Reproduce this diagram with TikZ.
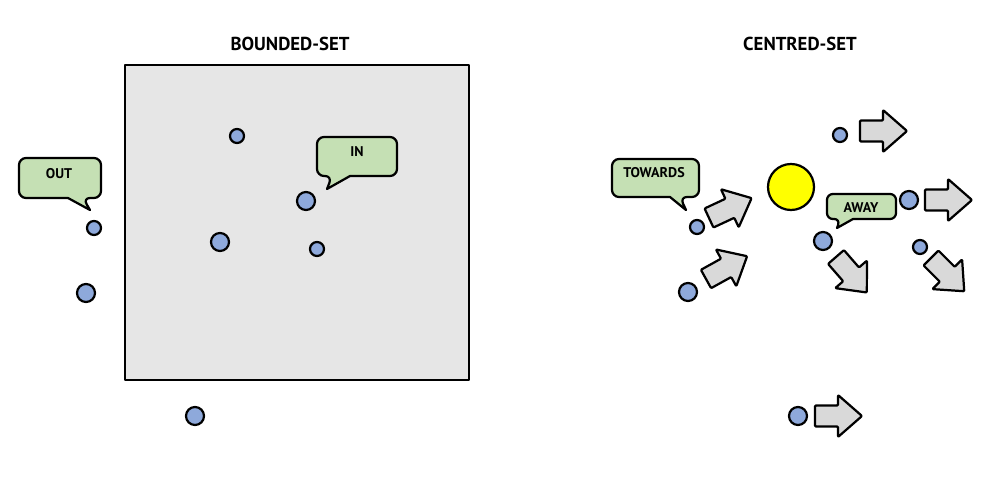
\documentclass[tikz,border=0pt]{standalone}
\usepackage{fontspec}
\setmainfont{PT Sans}
\definecolor{dotblue}{RGB}{142,169,219}
\definecolor{bubgreen}{RGB}{197,224,180}
\definecolor{boxgray}{RGB}{230,230,230}
\definecolor{arrgray}{RGB}{217,217,217}
\definecolor{sunyellow}{RGB}{255,255,0}
\begin{document}
\begin{tikzpicture}[x=0.03cm,y=-0.03cm,line join=round,
  outline/.style={draw=black,line width=1.9pt},
  bubble/.style={outline,fill=bubgreen},
  bubtext/.style={font=\bfseries\fontsize{12pt}{14pt}\selectfont,inner sep=0pt},
  titletext/.style={font=\bfseries\fontsize{16pt}{19pt}\selectfont,inner sep=0pt},
  blockarrow/.pic={\draw[outline,fill=arrgray,rounded corners=0.8]
     (0,-10.5)--(23,-10.5)--(23,-21)--(47,0)--(23,21)--(23,10.5)--(0,10.5)--cycle;}]
\useasboundingbox (0,0) rectangle (1000,478);
\tikzset{sdot/.style={circle,outline,fill=dotblue,inner sep=0pt,minimum size=0.42cm},
         bdot/.style={circle,outline,fill=dotblue,inner sep=0pt,minimum size=0.54cm}}

% titles
\node[titletext] (t1) at (290,44) {BOUNDED-SET};
\node[titletext] (t2) at (800,44) {CENTRED-SET};

% bounded set box
\draw[outline,fill=boxgray] (125,65) rectangle (469,380);

% left dots
\node[sdot] (d1) at (237,136) {};
\node[bdot] (d2) at (306,201) {};
\node[bdot] (d3) at (220,242) {};
\node[sdot] (d4) at (317,249) {};
\node[sdot] (d5) at (94,228) {};
\node[bdot] (d6) at (86,293) {};
\node[bdot] (d7) at (195,416) {};

% OUT bubble
\draw[bubble] [rounded corners=6] (68,198) -- (19,198) -- (19,158) -- (101,158) -- (101,198) -- (83,198) [sharp corners] -- (90,210) -- cycle;
\node[bubtext] (out) at (59,174) {OUT};

% IN bubble
\draw[bubble] [rounded corners=6] (350,176) -- (397,176) -- (397,137) -- (317,137) -- (317,176) -- (332,176) [sharp corners] -- (327,189) -- cycle;
\node[bubtext] (in) at (357,152) {IN};

% centred set
\node[circle,outline,fill=sunyellow,inner sep=0pt,minimum size=1.38cm] (sun) at (791,187) {};

\node[sdot] (e1) at (840,135) {};
\node[sdot] (e2) at (697,227) {};
\node[bdot] (e3) at (688,292) {};
\node[bdot] (e4) at (909,200) {};
\node[bdot] (e5) at (823,241) {};
\node[sdot] (e6) at (920,247) {};
\node[bdot] (e7) at (798,416) {};

% TOWARDS bubble
\draw[bubble] [rounded corners=6] (670,197) -- (612,197) -- (612,159) -- (699,159) -- (699,197) -- (680,197) [sharp corners] -- (686,210) -- cycle;
\node[bubtext] (tow) at (654,173) {TOWARDS};

% AWAY bubble
\draw[bubble] [rounded corners=5] (853,219) -- (896,219) -- (896,194) -- (827,194) -- (827,219) -- (840,219) [sharp corners] -- (837,228) -- cycle;
\node[bubtext] (away) at (861,208) {AWAY};

% arrows
\pic[rotate=25] (a1) at (709,218) {blockarrow};
\pic[rotate=29] (a2) at (706,279) {blockarrow};
\pic (a3) at (860,131) {blockarrow};
\pic (a4) at (925,200) {blockarrow};
\pic[rotate=-49] (a5) at (836,257) {blockarrow};
\pic[rotate=-45] (a6) at (931,258) {blockarrow};
\pic (a7) at (815,416) {blockarrow};
\end{tikzpicture}
\end{document}
